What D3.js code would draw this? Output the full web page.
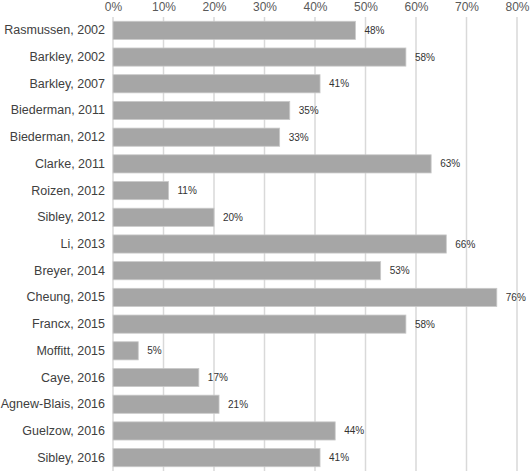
<!DOCTYPE html>
<html>
<head>
<meta charset="utf-8">
<script src="https://cdn.jsdelivr.net/npm/d3@7"></script>
<style>
  body { margin: 0; background: #fff; }
  svg text { font-family: "Liberation Sans", Arial, sans-serif; }
</style>
</head>
<body>
<svg id="chart" width="531" height="471"></svg>
<script>
var studies = ["Rasmussen, 2002", "Barkley, 2002", "Barkley, 2007", "Biederman, 2011",
  "Biederman, 2012", "Clarke, 2011", "Roizen, 2012", "Sibley, 2012", "Li, 2013",
  "Breyer, 2014", "Cheung, 2015", "Francx, 2015", "Moffitt, 2015", "Caye, 2016",
  "Agnew-Blais, 2016", "Guelzow, 2016", "Sibley, 2016"];
var percents = [48, 58, 41, 35, 33, 63, 11, 20, 66, 53, 76, 58, 5, 17, 21, 44, 41];
var tickValues = [0, 10, 20, 30, 40, 50, 60, 70, 80];

var svg = d3.select("#chart");
var plotLeft = 113, plotRight = 517, plotTop = 17, plotBottom = 471;

var x = d3.scaleLinear().domain([0, 80]).range([plotLeft, plotRight]);
var y = d3.scaleBand().domain(studies).range([plotTop, plotBottom]).paddingInner(0.32).paddingOuter(0.16);

// gridlines
svg.append("g").selectAll("line")
  .data(tickValues)
  .enter().append("line")
  .attr("x1", function(d){ return x(d); })
  .attr("x2", function(d){ return x(d); })
  .attr("y1", plotTop)
  .attr("y2", plotBottom)
  .attr("stroke", "#d9d9d9")
  .attr("stroke-width", 1.5);

// top axis labels
var axis = d3.axisTop(x).tickValues(tickValues).tickFormat(function(d){ return d + "%"; }).tickSize(0).tickPadding(0);
var gx = svg.append("g").attr("transform", "translate(0,11)").call(axis);
gx.select(".domain").remove();
gx.selectAll("text")
  .attr("font-size", 12)
  .attr("font-family", "Liberation Sans, Arial, sans-serif")
  .attr("fill", "#595959");

// category labels
var gy = svg.append("g").attr("transform", "translate(" + (plotLeft - 8) + ",0)")
  .call(d3.axisLeft(y).tickSize(0).tickPadding(0));
gy.select(".domain").remove();
gy.selectAll("text")
  .attr("font-size", 12.5)
  .attr("font-family", "Liberation Sans, Arial, sans-serif")
  .attr("fill", "#404040");

// bars
svg.append("g").selectAll("rect")
  .data(percents)
  .enter().append("rect")
  .attr("x", x(0))
  .attr("y", function(d, i){ return y(studies[i]); })
  .attr("width", function(d){ return x(d) - x(0); })
  .attr("height", y.bandwidth())
  .attr("fill", "#a6a6a6")
  .attr("stroke", "#c9c9c9")
  .attr("stroke-width", 0.8);

// value labels
svg.append("g").selectAll("text")
  .data(percents)
  .enter().append("text")
  .attr("x", function(d){ return x(d) + 9; })
  .attr("y", function(d, i){ return y(studies[i]) + y.bandwidth() / 2; })
  .attr("dy", "0.35em")
  .attr("font-size", 10)
  .attr("fill", "#333")
  .text(function(d){ return d + "%"; });
</script>
</body>
</html>
